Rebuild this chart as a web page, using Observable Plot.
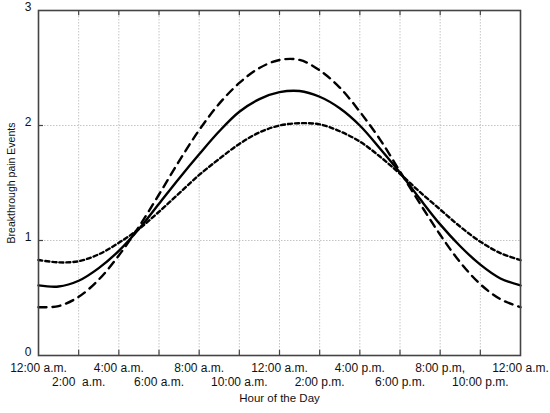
<!DOCTYPE html>
<html>
<head>
<meta charset="utf-8">
<script src="https://cdn.jsdelivr.net/npm/d3@7"></script>
<script src="https://cdn.jsdelivr.net/npm/@observablehq/plot@0.6"></script>
<style>
  body { margin: 0; background: #fff; }
  #chart svg { font-family: "Liberation Sans", Arial, sans-serif; }
</style>
</head>
<body>
<div id="chart"></div>
<script>
// hours of the day, 0 = midnight
const hours = d3.range(0, 25);

// values, one per hour
const solidSeries = [0.61, 0.60, 0.65, 0.76, 0.91, 1.10, 1.32, 1.54, 1.75, 1.95, 2.12, 2.23, 2.29,
                     2.30, 2.25, 2.15, 2.00, 1.80, 1.59, 1.36, 1.14, 0.95, 0.79, 0.67, 0.61];
const longDashSeries = [0.42, 0.43, 0.51, 0.66, 0.87, 1.12, 1.40, 1.69, 1.96, 2.19, 2.37, 2.50, 2.57,
                        2.57, 2.48, 2.33, 2.12, 1.88, 1.60, 1.32, 1.05, 0.81, 0.62, 0.49, 0.42];
const shortDashSeries = [0.83, 0.81, 0.82, 0.88, 0.98, 1.10, 1.25, 1.41, 1.57, 1.71, 1.84, 1.94, 2.00,
                         2.02, 2.01, 1.95, 1.86, 1.73, 1.58, 1.42, 1.27, 1.12, 0.99, 0.89, 0.83];

// x tick values and their labels
const xTicks = [0, 2, 4, 6, 8, 10, 12, 14, 16, 18, 20, 22, 24];
const xTickLabels = ["12:00 a.m.", "2:00\u00a0 a.m.", "4:00 a.m.", "6:00 a.m.", "8:00 a.m.", "10:00 a.m.",
                     "12:00 a.m.", "2:00 p.m.", "4:00 p.m.", "6:00 p.m.", "8:00 p.m,", "10:00 p.m.", "12:00 a.m."];
const yTicks = [0, 1, 2, 3];

const toRows = (vals) => hours.map((h, i) => ({hour: h, value: vals[i]}));
const solid = toRows(solidSeries);
const longDash = toRows(longDashSeries);
const shortDash = toRows(shortDashSeries);

const labelOf = (v) => xTickLabels[xTicks.indexOf(v)];
const topRow = xTicks.filter((d, i) => i % 2 === 0);
const bottomRow = xTicks.filter((d, i) => i % 2 === 1);

const ink = "#111";

const chart = Plot.plot({
  width: 550,
  height: 413,
  marginLeft: 38,
  marginRight: 30,
  marginTop: 10,
  marginBottom: 58,
  style: {fontSize: "12px", color: ink, background: "#fff"},
  x: {domain: [0, 24]},
  y: {domain: [0, 3]},
  marks: [
    Plot.gridX(xTicks.slice(1, -1), {stroke: "#c4c4c4", strokeOpacity: 1, strokeDasharray: "1.5,1.5"}),
    Plot.gridY(yTicks.slice(1, -1), {stroke: "#c4c4c4", strokeOpacity: 1, strokeDasharray: "1.5,1.5"}),
    // inward tick marks
    Plot.ruleX(xTicks.slice(1, -1), {y1: 0, y2: 0.045, stroke: "#444", strokeWidth: 1.2}),
    Plot.ruleX(xTicks.slice(1, -1), {y1: 3, y2: 2.955, stroke: "#444", strokeWidth: 1.2}),
    Plot.ruleY(yTicks.slice(1, -1), {x1: 0, x2: 0.25, stroke: "#444", strokeWidth: 1.2}),
    Plot.axisX(topRow, {tickSize: 0, tickPadding: 8, tickFormat: labelOf, label: null, fill: ink}),
    Plot.axisX(bottomRow, {tickSize: 0, tickPadding: 22, tickFormat: labelOf, label: null, fill: ink}),
    Plot.axisY(yTicks, {tickSize: 0, tickPadding: 7, tickFormat: "d", label: null, fill: ink, dy: -3}),
    Plot.text(["Hour of the Day"], {frameAnchor: "bottom", dy: 46, fontSize: 11.5, fill: ink}),
    Plot.text(["Breakthrough pain Events"], {frameAnchor: "left", textAnchor: "middle", dx: -27, rotate: -90, fontSize: 10.5, fill: ink}),
    Plot.line(solid, {x: "hour", y: "value", curve: "catmull-rom", stroke: "#000", strokeWidth: 2.4}),
    Plot.line(longDash, {x: "hour", y: "value", curve: "catmull-rom", stroke: "#000", strokeWidth: 2.4, strokeDasharray: "8,6"}),
    Plot.line(shortDash, {x: "hour", y: "value", curve: "catmull-rom", stroke: "#000", strokeWidth: 2.4, strokeDasharray: "4,3"}),
    Plot.frame({stroke: "#444", strokeWidth: 1.6})
  ]
});

document.getElementById("chart").append(chart);
</script>
</body>
</html>
